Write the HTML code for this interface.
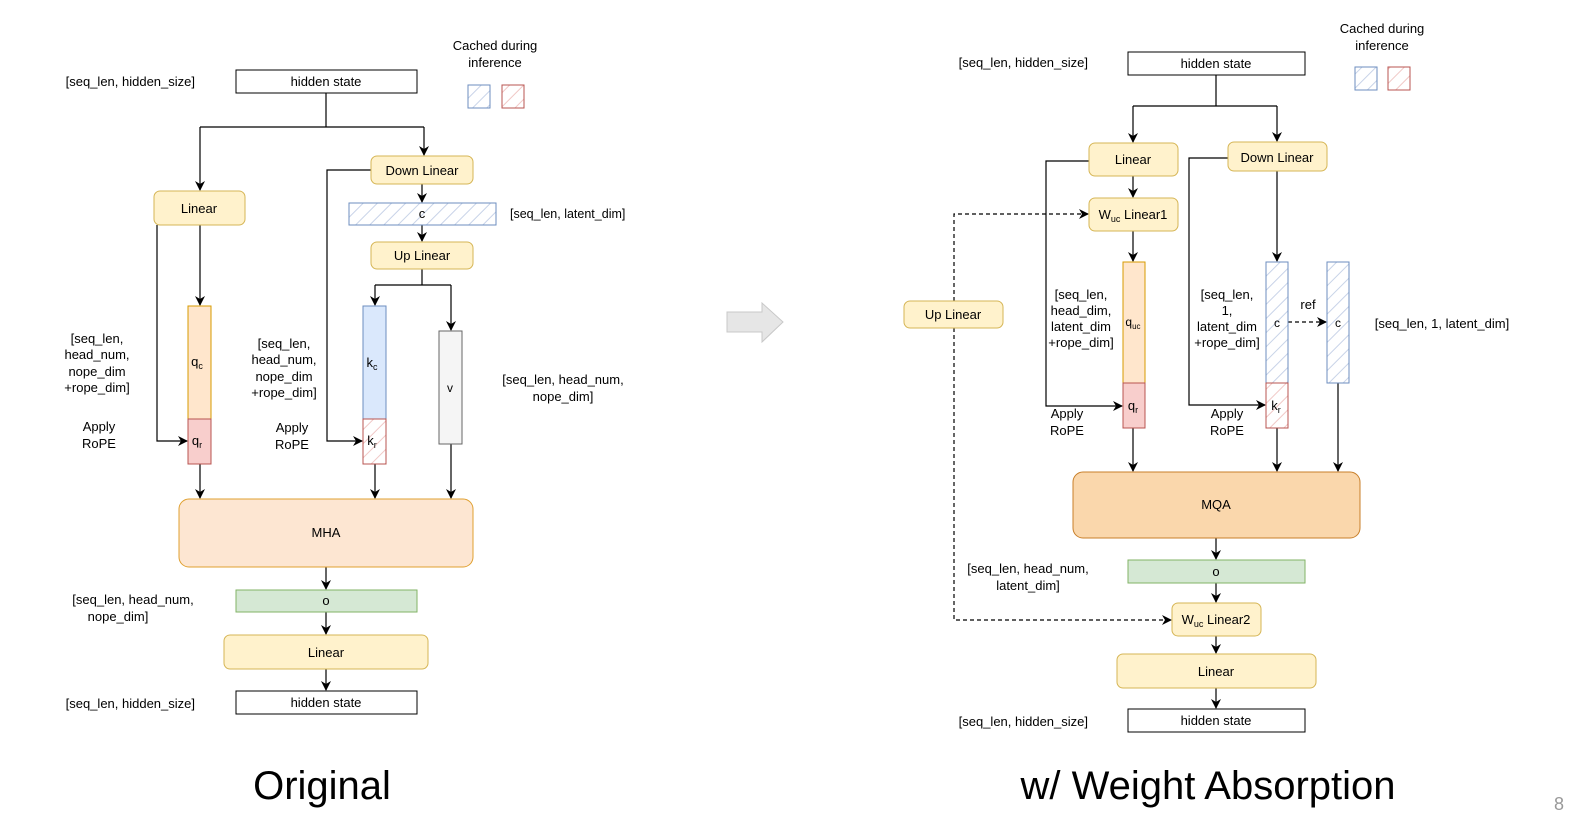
<!DOCTYPE html>
<html><head><meta charset="utf-8"><style>
html,body{margin:0;padding:0;background:#fff;}
svg{display:block;font-family:"Liberation Sans",Arial,sans-serif;}
</style></head><body>
<svg width="1588" height="827" viewBox="0 0 1588 827" xmlns="http://www.w3.org/2000/svg">
<defs>
<marker id="ah" markerWidth="10" markerHeight="10" refX="9" refY="5" orient="auto" markerUnits="userSpaceOnUse"><path d="M0,0 L10,5 L0,10 L3,5 Z" fill="#000"/></marker>
<pattern id="hb" width="10" height="10" patternUnits="userSpaceOnUse" patternTransform="rotate(45)"><rect width="10" height="10" fill="#fff"/><line x1="0" y1="0" x2="0" y2="10" stroke="#c8d3e8" stroke-width="2"/></pattern>
<pattern id="hr" width="10" height="10" patternUnits="userSpaceOnUse" patternTransform="rotate(45)"><rect width="10" height="10" fill="#fff"/><line x1="0" y1="0" x2="0" y2="10" stroke="#f0c8c6" stroke-width="2"/></pattern>
</defs>
<g font-size="13" fill="#000" stroke="none">
<!-- LEFT -->
<text x="195" y="86" text-anchor="end">[seq_len, hidden_size]</text>
<rect x="236" y="70" width="181" height="23" fill="#fff" stroke="#000"/>
<text x="326" y="86" text-anchor="middle">hidden state</text>
<text x="495" y="50" text-anchor="middle">Cached during</text>
<text x="495" y="67" text-anchor="middle">inference</text>
<rect x="468" y="85" width="22" height="23" fill="url(#hb)" stroke="#6c8ebf"/>
<rect x="502" y="85" width="22" height="23" fill="url(#hr)" stroke="#b85450"/>
<g fill="none" stroke="#000" stroke-width="1.2">
<path d="M326,93 V127 M200,127 H424"/>
<path d="M200,127 V190" marker-end="url(#ah)"/>
<path d="M424,127 V155" marker-end="url(#ah)"/>
<path d="M200,225 V305" marker-end="url(#ah)"/>
<path d="M157,225 V441 H187" marker-end="url(#ah)"/>
<path d="M371,170 H327 V441 H362" marker-end="url(#ah)"/>
<path d="M422,184 V202" marker-end="url(#ah)"/>
<path d="M422,225 V241" marker-end="url(#ah)"/>
<path d="M422,269 V285 M375,285 H451"/>
<path d="M375,285 V305" marker-end="url(#ah)"/>
<path d="M451,285 V330" marker-end="url(#ah)"/>
<path d="M200,464 V498" marker-end="url(#ah)"/>
<path d="M375,464 V498" marker-end="url(#ah)"/>
<path d="M451,444 V498" marker-end="url(#ah)"/>
<path d="M326,567 V589" marker-end="url(#ah)"/>
<path d="M326,612 V634" marker-end="url(#ah)"/>
<path d="M326,669 V690" marker-end="url(#ah)"/>
</g>
<rect x="154" y="191" width="91" height="34" rx="6" fill="#fff2cc" stroke="#d6b656"/>
<text x="199" y="213" text-anchor="middle">Linear</text>
<rect x="371" y="156" width="102" height="28" rx="6" fill="#fff2cc" stroke="#d6b656"/>
<text x="422" y="175" text-anchor="middle">Down Linear</text>
<rect x="349" y="203" width="147" height="22" fill="url(#hb)" stroke="#6c8ebf"/>
<text x="422" y="218" text-anchor="middle">c</text>
<text x="510" y="218" font-size="12.5">[seq_len, latent_dim]</text>
<rect x="371" y="242" width="102" height="27" rx="6" fill="#fff2cc" stroke="#d6b656"/>
<text x="422" y="260" text-anchor="middle">Up Linear</text>
<rect x="188" y="306" width="23" height="113" fill="#ffe6cc" stroke="#d79b00"/>
<text x="197" y="366" text-anchor="middle">q<tspan font-size="9" dy="3">c</tspan></text>
<rect x="188" y="419" width="23" height="45" fill="#f8cecc" stroke="#b85450"/>
<text x="197" y="445" text-anchor="middle">q<tspan font-size="9" dy="3">r</tspan></text>
<rect x="363" y="306" width="23" height="113" fill="#dae8fc" stroke="#6c8ebf"/>
<text x="372" y="367" text-anchor="middle">k<tspan font-size="9" dy="3">c</tspan></text>
<rect x="363" y="419" width="23" height="45" fill="url(#hr)" stroke="#b85450"/>
<text x="372" y="445" text-anchor="middle">k<tspan font-size="9" dy="3">r</tspan></text>
<rect x="439" y="331" width="23" height="113" fill="#f5f5f5" stroke="#666"/>
<text x="450" y="392" text-anchor="middle" font-size="12">v</text>
<g text-anchor="middle">
<text x="97" y="343">[seq_len,</text><text x="97" y="359">head_num,</text><text x="97" y="376">nope_dim</text><text x="97" y="392">+rope_dim]</text>
<text x="99" y="431">Apply</text><text x="99" y="448">RoPE</text>
<text x="284" y="348">[seq_len,</text><text x="284" y="364">head_num,</text><text x="284" y="381">nope_dim</text><text x="284" y="397">+rope_dim]</text>
<text x="292" y="432">Apply</text><text x="292" y="449">RoPE</text>
<text x="563" y="384">[seq_len, head_num,</text><text x="563" y="401">nope_dim]</text>
<text x="133" y="604">[seq_len, head_num,</text><text x="118" y="621">nope_dim]</text>
</g>
<rect x="179" y="499" width="294" height="68" rx="10" fill="#fde6d2" stroke="#e0a030"/>
<text x="326" y="537" text-anchor="middle">MHA</text>
<rect x="236" y="590" width="181" height="22" fill="#d5e8d4" stroke="#82b366"/>
<text x="326" y="605" text-anchor="middle">o</text>
<rect x="224" y="635" width="204" height="34" rx="6" fill="#fff2cc" stroke="#d6b656"/>
<text x="326" y="657" text-anchor="middle">Linear</text>
<rect x="236" y="691" width="181" height="23" fill="#fff" stroke="#000"/>
<text x="326" y="707" text-anchor="middle">hidden state</text>
<text x="195" y="708" text-anchor="end">[seq_len, hidden_size]</text>

<!-- big arrow -->
<path d="M727,312 H762 V303 L783,322 L762,342 V332 H727 Z" fill="#e6e6e6" stroke="#c8c8c8"/>

<!-- RIGHT -->
<text x="1088" y="67" text-anchor="end">[seq_len, hidden_size]</text>
<rect x="1128" y="52" width="177" height="23" fill="#fff" stroke="#000"/>
<text x="1216" y="68" text-anchor="middle">hidden state</text>
<text x="1382" y="33" text-anchor="middle">Cached during</text>
<text x="1382" y="50" text-anchor="middle">inference</text>
<rect x="1355" y="67" width="22" height="23" fill="url(#hb)" stroke="#6c8ebf"/>
<rect x="1388" y="67" width="22" height="23" fill="url(#hr)" stroke="#b85450"/>
<g fill="none" stroke="#000" stroke-width="1.2">
<path d="M1216,75 V106 M1133,106 H1277"/>
<path d="M1133,106 V142" marker-end="url(#ah)"/>
<path d="M1277,106 V141" marker-end="url(#ah)"/>
<path d="M1133,176 V197" marker-end="url(#ah)"/>
<path d="M1133,231 V261" marker-end="url(#ah)"/>
<path d="M1089,161 H1046 V406 H1122" marker-end="url(#ah)"/>
<path d="M1228,158 H1189 V405 H1265" marker-end="url(#ah)"/>
<path d="M1277,171 V261" marker-end="url(#ah)"/>
<path d="M1133,428 V471" marker-end="url(#ah)"/>
<path d="M1277,428 V471" marker-end="url(#ah)"/>
<path d="M1338,383 V471" marker-end="url(#ah)"/>
<path d="M1216,538 V559" marker-end="url(#ah)"/>
<path d="M1216,583 V602" marker-end="url(#ah)"/>
<path d="M1216,636 V653" marker-end="url(#ah)"/>
<path d="M1216,688 V708" marker-end="url(#ah)"/>
<g stroke-dasharray="4,3">
<path d="M1288,322 H1326" marker-end="url(#ah)"/>
<path d="M954,301 V214 H1088" marker-end="url(#ah)"/>
<path d="M954,328 V620 H1171" marker-end="url(#ah)"/>
</g>
</g>
<rect x="1089" y="143" width="89" height="33" rx="6" fill="#fff2cc" stroke="#d6b656"/>
<text x="1133" y="164" text-anchor="middle">Linear</text>
<rect x="1228" y="142" width="99" height="29" rx="6" fill="#fff2cc" stroke="#d6b656"/>
<text x="1277" y="162" text-anchor="middle">Down Linear</text>
<rect x="1089" y="198" width="89" height="33" rx="6" fill="#fff2cc" stroke="#d6b656"/>
<text x="1133" y="219" text-anchor="middle">W<tspan font-size="9" dy="3">uc</tspan><tspan dy="-3"> Linear1</tspan></text>
<rect x="904" y="301" width="99" height="27" rx="6" fill="#fff2cc" stroke="#d6b656"/>
<text x="953" y="319" text-anchor="middle">Up Linear</text>
<rect x="1123" y="262" width="22" height="121" fill="#ffe6cc" stroke="#d79b00"/>
<text x="1133" y="326" text-anchor="middle" font-size="12">q<tspan font-size="8" dy="3">uc</tspan></text>
<rect x="1123" y="383" width="22" height="45" fill="#f8cecc" stroke="#b85450"/>
<text x="1133" y="410" text-anchor="middle">q<tspan font-size="9" dy="3">r</tspan></text>
<rect x="1266" y="262" width="22" height="121" fill="url(#hb)" stroke="#6c8ebf"/>
<text x="1277" y="327" text-anchor="middle" font-size="12">c</text>
<rect x="1266" y="383" width="22" height="45" fill="url(#hr)" stroke="#b85450"/>
<text x="1276" y="410" text-anchor="middle">k<tspan font-size="9" dy="3">r</tspan></text>
<rect x="1327" y="262" width="22" height="121" fill="url(#hb)" stroke="#6c8ebf"/>
<text x="1338" y="327" text-anchor="middle" font-size="12">c</text>
<g text-anchor="middle">
<text x="1308" y="309">ref</text>
<text x="1081" y="299">[seq_len,</text><text x="1081" y="315">head_dim,</text><text x="1081" y="331">latent_dim</text><text x="1081" y="347">+rope_dim]</text>
<text x="1067" y="418">Apply</text><text x="1067" y="435">RoPE</text>
<text x="1227" y="299">[seq_len,</text><text x="1227" y="315">1,</text><text x="1227" y="331">latent_dim</text><text x="1227" y="347">+rope_dim]</text>
<text x="1227" y="418">Apply</text><text x="1227" y="435">RoPE</text>
<text x="1442" y="328">[seq_len, 1, latent_dim]</text>
<text x="1028" y="573">[seq_len, head_num,</text><text x="1028" y="590">latent_dim]</text>
</g>
<rect x="1073" y="472" width="287" height="66" rx="10" fill="#fad7ac" stroke="#c87f2a"/>
<text x="1216" y="509" text-anchor="middle">MQA</text>
<rect x="1128" y="560" width="177" height="23" fill="#d5e8d4" stroke="#82b366"/>
<text x="1216" y="576" text-anchor="middle">o</text>
<rect x="1172" y="603" width="89" height="33" rx="6" fill="#fff2cc" stroke="#d6b656"/>
<text x="1216" y="624" text-anchor="middle">W<tspan font-size="9" dy="3">uc</tspan><tspan dy="-3"> Linear2</tspan></text>
<rect x="1117" y="654" width="199" height="34" rx="6" fill="#fff2cc" stroke="#d6b656"/>
<text x="1216" y="676" text-anchor="middle">Linear</text>
<rect x="1128" y="709" width="177" height="23" fill="#fff" stroke="#000"/>
<text x="1216" y="725" text-anchor="middle">hidden state</text>
<text x="1088" y="726" text-anchor="end">[seq_len, hidden_size]</text>

<text x="322" y="799" text-anchor="middle" font-size="40">Original</text>
<text x="1208" y="799" text-anchor="middle" font-size="40">w/ Weight Absorption</text>
<text x="1554" y="810" font-size="18" fill="#999">8</text>
</g>
</svg>
</body></html>
